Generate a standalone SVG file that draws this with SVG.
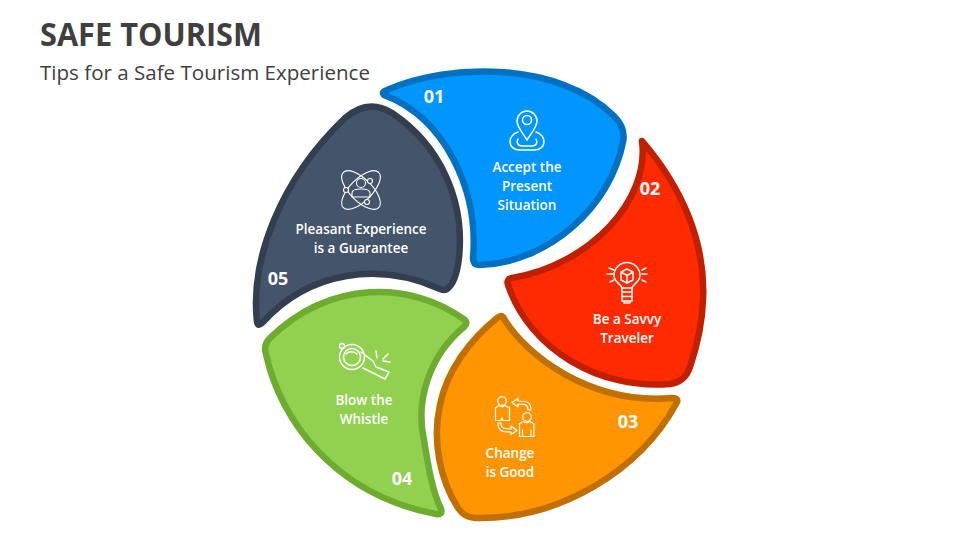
<svg xmlns="http://www.w3.org/2000/svg" width="960" height="540" viewBox="0 0 960 540">
<style>
text{font-family:"Open Sans","Noto Sans","Liberation Sans",sans-serif;fill:#fff;text-anchor:middle}
.lab{font-size:13.500px;font-weight:600}
.num{font-size:18px;font-weight:700}
.seg{stroke-width:6.500;stroke-linejoin:round}
.ic{fill:none;stroke:#fff;stroke-width:1.500;stroke-linecap:round;stroke-linejoin:round}
</style>
<rect width="960" height="540" fill="#fff"/>
<text x="40" y="46" textLength="222" lengthAdjust="spacingAndGlyphs" style="font-size:33px;font-weight:700;fill:#3f3f3f;text-anchor:start">SAFE TOURISM</text>
<text x="40" y="80" textLength="330" lengthAdjust="spacingAndGlyphs" style="font-size:20px;fill:#404040;text-anchor:start">Tips for a Safe Tourism Experience</text>
<g id="connectors"></g>
<g id="node-01">
<path class="seg" fill="#0095ff" stroke="#0070c0" d="M384,95 Q381,92 387,90 C450,62 560,62 614,116 Q626,128 623,142 C611,205 550,263 479,265 Q473,265 473,258 C479,190 445,118 384,95Z"/>
<g class="ic"><path d="M527,140 C522,132 517,127 517,121 A10,10 0 0 1 537,121 C537,127 532,132 527,140Z"/><circle cx="527" cy="120" r="4.500"/><path d="M518,132 C507,135 507,150 520,150 H534 C547,150 547,135 536,132"/><path d="M518,139 C516,143 518,146 522,146 H532 C536,146 538,143 536,139"/></g>
<text class="lab" x="527" y="172">Accept the</text><text class="lab" x="527" y="191">Present</text><text class="lab" x="527" y="210">Situation</text>
<text class="num" x="434" y="103">01</text>
</g>
<g id="node-02">
<path class="seg" fill="#ff2a00" stroke="#c02000" d="M642,141 C680,185 706,240 703,300 C702,330 695,352 690,367 Q685,382 670,384 C600,390 530,350 508,285 Q506,279 512,278 C590,265 650,200 642,141Z"/>
<g class="ic"><path d="M622,288 C621,284 614,282 614,275.500 A13,13 0 0 1 640,275.500 C640,282 633,284 632,288Z"/><path d="M627,269 L633,272 V280 L627,283 L621,280 V272Z M621,272 L627,275.500 L633,272 M627,275.500 V283"/><path d="M622,288 V301 H632 V288 M622,292 H632 M622,296.500 H632 M624,301 V303 H630 V301"/><path d="M607,274 H613 M609,268 L614,270 M610,282 L614,280 M647,274 H642 M646,268 L642,270 M646,282 L642,280"/></g>
<text class="lab" x="627" y="324">Be a Savvy</text><text class="lab" x="627" y="343">Traveler</text>
<text class="num" x="650" y="195">02</text>
</g>
<g id="node-03">
<path class="seg" fill="#ff9500" stroke="#bf7000" d="M503,317 C525,355 590,405 672,398 Q680,398 676,404 C640,470 560,520 475,518 Q465,518 458,508 C440,480 432,440 440,405 C447,370 470,340 497,318 Q501,315 503,317Z"/>
<g class="ic" style="stroke-width:1.200"><circle cx="502" cy="401" r="4.300"/><path d="M495.500,420.500 V408 L499,405.500 L502,407 L505,405.500 L509.500,408 V420.500 H503 L502,418 L501,420.500Z"/><circle cx="527" cy="417" r="4.300"/><path d="M519.500,436.500 V424 L523,421.500 L527,423 L530,421.500 L534,424 V436.500 Z M522.500,436.500 V430 M531,436.500 V430"/><path d="M528,410 C528,404 524,404 518,404 V407 L512,402.500 L518,398.500 V401 C527,401 531,402 531,410Z"/><path d="M501,423 C501,429 505,429 511,429 V426 L517,430.500 L511,434.500 V432 C502,432 498,431 498,423Z"/></g>
<text class="lab" x="510" y="458">Change</text><text class="lab" x="510" y="477">is Good</text>
<text class="num" x="628" y="428">03</text>
</g>
<g id="node-04">
<path class="seg" fill="#92d050" stroke="#6eac30" d="M465,320 Q468,323 464,327 C430,355 415,400 424,440 C428,465 432,490 441,509 Q443,515 436,514 C335,495 280,420 266,354 Q263,345 270,338 C330,280 410,280 465,320Z"/>
<g class="ic"><circle cx="352" cy="357" r="12.500"/><circle cx="352" cy="357" r="8.500"/><path d="M346,354 C349,351 354,351 357,354"/><circle cx="342" cy="346" r="2.500"/><path d="M361,352 L373,361 L376,367 L389,372 L385,379 L363,368"/><path d="M376,351 L377,358 M388,354 L383,359 M390,362 L383,361"/></g>
<text class="lab" x="364" y="405">Blow the</text><text class="lab" x="364" y="424">Whistle</text>
<text class="num" x="402" y="485">04</text>
</g>
<g id="node-05">
<path class="seg" fill="#44546a" stroke="#333f50" d="M257,322 C250,260 280,180 345,118 Q368,98 392,113 C440,145 465,200 459,258 C457,275 453,285 447,289 Q445,291 440,289 C380,262 310,270 262,323 Q258,327 257,322Z"/>
<g class="ic" style="stroke-width:1.100"><ellipse cx="361" cy="190" rx="25" ry="11" transform="rotate(-45 361 190)"/><ellipse cx="361" cy="190" rx="25" ry="11" transform="rotate(45 361 190)"/><circle cx="361" cy="183" r="4.500"/><path d="M352,197 V193 C352,190 357,189 361,189 C365,189 370,190 370,193 V197Z"/><circle cx="370" cy="181" r="2.500" fill="#44546a"/><circle cx="346" cy="190" r="2.500" fill="#44546a"/><circle cx="367" cy="202" r="2.500" fill="#44546a"/></g>
<text class="lab" x="361" y="234">Pleasant Experience</text><text class="lab" x="361" y="253">is a Guarantee</text>
<text class="num" x="278" y="285">05</text>
</g>
</svg>
